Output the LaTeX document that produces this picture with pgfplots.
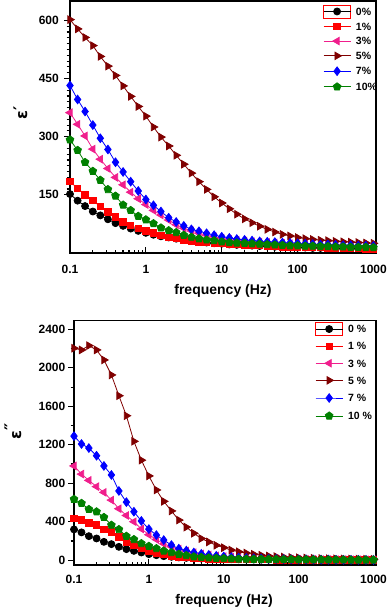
\documentclass[border=0pt]{standalone}
\usepackage{fontspec}
\setmainfont{Liberation Sans}
\newfontfamily\dejavu{DejaVu Sans}
\usepackage{pgfplots}
\pgfplotsset{compat=1.18}
\usepackage{pgfplotstable}

\definecolor{cpink}{RGB}{240,30,140}
\definecolor{cdred}{RGB}{128,0,0}
\definecolor{cgreen}{RGB}{0,128,0}
\definecolor{cblue}{RGB}{0,0,255}
\definecolor{cred}{RGB}{255,0,0}

\pgfplotstableread{
f     s0   s1   s3   s5   s7   s10
0.1   152  184  362  602  432  292
0.126 135  167  332  578  396  265
0.158 121  150  302  556  365  234
0.2   107  135  268  535  330  211
0.251 97   120  242  507  296  188
0.316 87   106  218  482  267  164
0.398 77   93   195  458  234  147
0.501 70   80   176  431  209  124
0.631 63   71   157  404  184  110
0.794 57   63   140  378  160  95
1     52   57   125  353  138  86
1.26  47   52   110  325  123  76
1.58  43   46   98   299  107  65
2     40   41   85   276  91   58
2.51  37   37   73   252  80   53
3.16  34   34   64   229  70   46
3.98  31   31   57   206  61   41
5.01  29   29   51   184  56   37
6.31  27   27   46   164  51   34
7.94  25   26   42   145  46   32
10    24   25   38   129  42   29
12.6  22   23   35   114  39   27
15.8  21   22   33   100  36   26
20    20   21   31   88   34   25
25.1  19   20   29   78   32   24
31.6  18   19   28   69   30   23
39.8  17   18   27   61   29   22
50.1  16   17   26   54   28   21
63.1  15   16   25   48   27   20
79.4  15   16   24   44   26   19
100   14   15   23   40   25   19
126   14   15   22   37   24   18
158   13   14   22   35   23   18
200   13   14   21   33   22   17
251   12   13   21   32   22   17
316   12   13   20   30   21   16
398   11   12   20   29   20   16
501   11   12   19   28   20   15
631   11   12   19   27   19   15
794   10   11   18   26   19   15
1000  10   11   18   25   18   14
}\epsreal

\pgfplotstableread{
f     s0   s1   s3   s5   s7   s10
0.1   320  435  980  2204 1290 634
0.126 289  417  895  2186 1208 592
0.158 250  389  830  2231 1166 529
0.2   226  365  765  2186 1086 504
0.251 191  323  705  2082 980  446
0.316 167  295  625  1926 886  365
0.398 139  243  535  1710 720  320
0.501 115  191  465  1502 604  250
0.631 97   157  400  1236 504  216
0.794 80   122  325  1040 408  174
1     63   97   265  876  323  146
1.26  52   76   215  730  261  122
1.58  42   59   170  612  209  97
2     35   45   140  512  157  80
2.51  29   35   115  417  120  63
3.16  24   28   95   344  100  49
3.98  20   22   78   280  80   36
5.01  17   18   64   225  66   30
6.31  15   15   53   190  55   25
7.94  13   13   44   155  45   21
10    11   11   37   130  38   18
12.6  10   10   32   105  32   15
15.8  9    9    28   88   27   13
20    8    8    24   74   23   12
25.1  7    7    21   62   20   11
31.6  6    6    18   52   17   10
39.8  6    6    16   44   15   9
50.1  5    5    14   38   13   8
63.1  5    5    12   33   11   7
79.4  4    4    11   29   10   7
100   4    4    10   26   9    6
126   4    4    9    23   8    6
158   3    3    8    20   7    5
200   3    3    7    18   6    5
251   3    3    7    16   6    4
316   3    3    6    14   5    4
398   2    2    6    13   5    4
501   2    2    5    12   4    3
631   2    2    5    11   4    3
794   2    2    4    10   4    3
1000  2    2    4    9    3    3
}\epsimag

\pgfplotsset{
  myaxis/.style={
    scale only axis,
    xmin=0.1, xmax=1080,
    xtick={0.1,1,10,100,1000},
    xticklabels={0.1,1,10,100,1000},
    axis line style={line width=1.5pt},
    every tick/.style={line width=1.1pt, black},
    xtick align=inside, ytick align=outside,
    xtick pos=left, ytick pos=left,
    major tick length=6pt, minor tick length=3.5pt,
    tick label style={font=\fontsize{12}{14}\selectfont\bfseries},
    /pgf/number format/assume math mode=true,
    /pgf/number format/1000 sep={},
    label style={font=\fontsize{14}{16}\selectfont\bfseries},
    yticklabel style={anchor=east, inner xsep=0pt},
    xlabel={frequency (Hz)},
    legend cell align=left,
    legend image code/.code={\draw[mark repeat=2,mark phase=2,##1] plot coordinates {(0pt,0pt) (13.5pt,0pt) (27pt,0pt)};},
    legend style={draw=none, fill=none, inner sep=0pt, outer sep=0pt,
      font=\fontsize{10.5}{12}\selectfont\bfseries,
      nodes={inner ysep=0pt, inner xsep=0pt, text height=7.5pt, text depth=0pt},
      /tikz/every odd column/.append style={column sep=5pt}},
  },
  s0/.style={black, line width=0.8pt, mark=*, mark size=3.5pt, mark options={solid, fill=black}},
  s1/.style={cred, line width=0.8pt, mark=square*, mark size=3.2pt, mark options={solid, fill=cred}},
  s3/.style={cpink, line width=0.8pt, mark=triangle*, mark size=4.3pt, mark options={solid, fill=cpink, rotate=90}},
  s5/.style={cdred, line width=0.8pt, mark=triangle*, mark size=4.3pt, mark options={solid, fill=cdred, rotate=-90}},
  s7/.style={cblue, line width=0.8pt, mark=diamond*, mark size=4.3pt, mark options={solid, fill=cblue}},
  s10/.style={cgreen, line width=0.8pt, mark=pentagon*, mark size=4pt, mark options={solid, fill=cgreen}},
  boxfirst/.style={legend image code/.code={%
    \draw[cred, line width=0.7pt, overlay] (0pt,-6.6pt) rectangle (27pt,6.6pt);
    \draw[mark repeat=2,mark phase=2,##1] plot coordinates {(0pt,0pt) (13.5pt,0pt) (27pt,0pt)};}},
}

\begin{document}
\begin{tikzpicture}
\useasboundingbox (0,0) rectangle (387pt,-607pt);

% ---------- top panel: epsilon' ----------
\begin{semilogxaxis}[myaxis,
  at={(70pt,-253pt)}, anchor=south west,
  width=306pt, height=252pt,
  ymin=0, ymax=650,
  ytick={150,300,450,600},
  minor y tick num=9,
  xticklabel style={anchor=base, yshift=-20.5pt},
  yticklabel style={xshift=-5pt},
  xlabel style={at={(axis description cs:0.5,-0.163)}, anchor=base},
  ylabel={{\dejavu\fontsize{16}{18}\selectfont\bfseries ε\raisebox{2pt}{′}}},
  ylabel style={at={(axis description cs:-0.16,0.556)}, anchor=center},
  legend style={at={(rel axis cs:1,1)}, anchor=north east, xshift=1pt, yshift=-6.7pt, row sep=7.3pt},
]
\addplot[s0, boxfirst] table[x=f, y=s0] {\epsreal};
\addlegendentry{0\%}
\addplot[s1] table[x=f, y=s1] {\epsreal};
\addlegendentry{1\%}
\addplot[s3] table[x=f, y=s3] {\epsreal};
\addlegendentry{3\%}
\addplot[s5] table[x=f, y=s5] {\epsreal};
\addlegendentry{5\%}
\addplot[s7] table[x=f, y=s7] {\epsreal};
\addlegendentry{7\%}
\addplot[s10] table[x=f, y=s10] {\epsreal};
\addlegendentry{10\%}
\end{semilogxaxis}

% ---------- bottom panel: epsilon'' ----------
\begin{semilogxaxis}[myaxis,
  at={(74pt,-565pt)}, anchor=south west,
  width=302pt, height=244.3pt,
  ymin=-50, ymax=2490,
  ytick={0,400,800,1200,1600,2000,2400},
  minor y tick num=1,
  xticklabel style={anchor=base, yshift=-18.3pt},
  yticklabel style={xshift=-2.5pt},
  xlabel style={at={(axis description cs:0.497,-0.16)}, anchor=base},
  ylabel={{\dejavu\fontsize{16}{18}\selectfont\bfseries ε\raisebox{5pt}{″}}},
  ylabel style={at={(axis description cs:-0.2,0.545)}, anchor=center},
  legend style={at={(rel axis cs:1,1)}, anchor=north east, xshift=-4pt, yshift=-4.6pt, row sep=9.6pt},
]
\addplot[s0, boxfirst] table[x=f, y=s0] {\epsimag};
\addlegendentry{0 \%}
\addplot[s1] table[x=f, y=s1] {\epsimag};
\addlegendentry{1 \%}
\addplot[s3] table[x=f, y=s3] {\epsimag};
\addlegendentry{3 \%}
\addplot[s5] table[x=f, y=s5] {\epsimag};
\addlegendentry{5 \%}
\addplot[s7] table[x=f, y=s7] {\epsimag};
\addlegendentry{7 \%}
\addplot[s10] table[x=f, y=s10] {\epsimag};
\addlegendentry{10 \%}
\end{semilogxaxis}
\end{tikzpicture}
\end{document}
